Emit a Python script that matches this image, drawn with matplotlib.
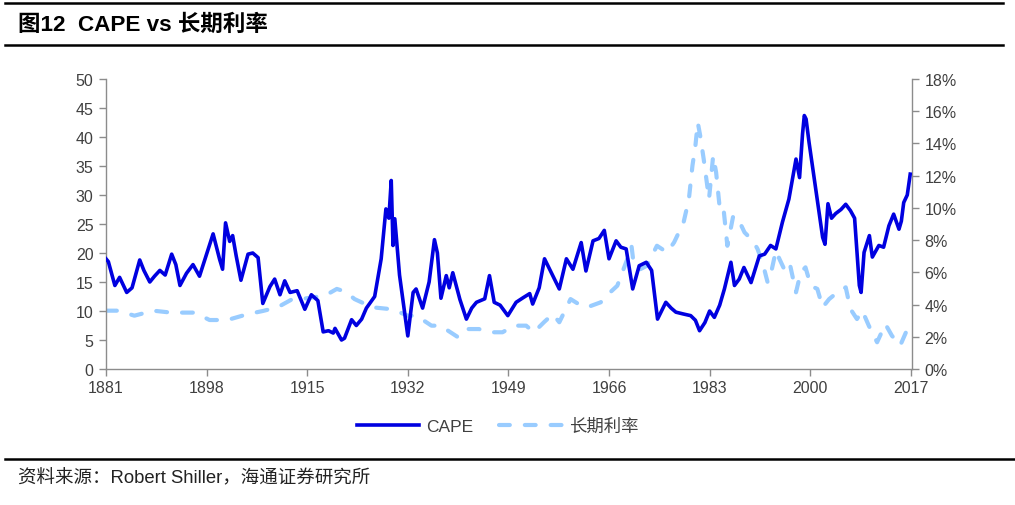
import matplotlib
matplotlib.use("Agg")
import matplotlib.pyplot as plt
from matplotlib.lines import Line2D
from matplotlib.ticker import FuncFormatter

plt.rcParams['font.family'] = ['Liberation Sans', 'Noto Sans CJK SC', 'DejaVu Sans']

# ---------------- data ----------------
cape_years = [1881.0, 1881.4, 1882.5, 1883.3, 1884.5, 1885.4, 1886.7, 1887.4, 1888.4, 1889.2,
              1890.1, 1891.0, 1892.1, 1892.8, 1893.5, 1894.6, 1895.7, 1896.8, 1898.0, 1899.1,
              1900.2, 1900.7, 1901.2, 1901.9, 1902.4, 1903.0, 1903.8, 1905.0, 1905.8, 1906.7,
              1907.5, 1908.7, 1909.5, 1910.4, 1911.2, 1912.1, 1913.3, 1914.6, 1915.7, 1916.8,
              1917.7, 1918.6, 1919.4, 1919.7, 1920.8, 1921.3, 1922.5, 1923.3, 1924.2, 1925.0,
              1926.4, 1927.5, 1928.3, 1928.8, 1929.2, 1929.5, 1929.8, 1930.6, 1931.3, 1932.0,
              1932.4, 1932.9, 1933.4, 1934.5, 1935.6, 1936.5, 1937.0, 1937.6, 1938.5, 1939.0,
              1939.6, 1940.8, 1941.9, 1942.8, 1943.6, 1945.0, 1945.8, 1946.6, 1947.6, 1948.9,
              1950.3, 1951.5, 1952.6, 1953.1, 1954.2, 1955.1, 1956.5, 1957.6, 1958.8, 1959.9,
              1961.3, 1962.1, 1963.3, 1964.3, 1965.2, 1966.0, 1967.2, 1968.0, 1968.9, 1970.0,
              1971.1, 1972.3, 1973.2, 1974.2, 1975.6, 1976.5, 1977.3, 1978.5, 1979.8, 1980.6,
              1981.3, 1982.2, 1983.0, 1983.8, 1984.7, 1985.5, 1986.6, 1987.2, 1988.0, 1988.8,
              1990.0, 1991.4, 1992.3, 1993.3, 1994.2, 1995.3, 1996.4, 1997.6, 1998.2, 1998.7,
              1999.0, 1999.3, 1999.8, 2000.4, 2001.2, 2002.1, 2002.5, 2003.0, 2003.6, 2004.3,
              2005.2, 2006.0, 2006.8, 2007.5, 2008.3, 2008.6, 2009.1, 2010.0, 2010.5, 2011.6,
              2012.4, 2013.3, 2014.1, 2015.0, 2015.4, 2015.8, 2016.4, 2016.9]
cape_values = [19.0, 18.5, 14.4, 15.8, 13.2, 14.0, 18.8, 17.0, 15.0, 16.0,
               17.0, 16.2, 19.8, 18.0, 14.4, 16.5, 18.0, 16.0, 19.8, 23.3,
               18.9, 17.2, 25.2, 22.0, 23.0, 19.5, 15.3, 19.8, 20.0, 19.2,
               11.3, 14.2, 15.5, 12.8, 15.2, 13.2, 13.5, 10.3, 12.8, 11.8,
               6.4, 6.6, 6.2, 7.0, 5.0, 5.3, 8.5, 7.5, 8.6, 10.5,
               12.5, 19.0, 27.6, 26.0, 32.5, 21.3, 25.9, 16.2, 11.0, 5.7,
               9.0, 13.2, 13.8, 10.5, 15.0, 22.3, 20.0, 12.2, 16.1, 14.0,
               16.6, 12.0, 8.6, 10.5, 11.5, 12.1, 16.1, 11.5, 11.0, 9.2,
               11.5, 12.3, 13.0, 11.2, 14.0, 19.0, 16.1, 13.8, 19.0, 17.2,
               21.8, 16.9, 22.1, 22.5, 23.9, 19.0, 22.1, 21.0, 20.7, 13.8,
               17.8, 18.4, 17.0, 8.6, 11.5, 10.5, 9.8, 9.5, 9.2, 8.4,
               6.6, 8.0, 10.0, 8.9, 11.0, 13.8, 18.4, 14.4, 15.5, 17.5,
               14.9, 19.5, 19.8, 21.3, 20.7, 25.3, 29.3, 36.2, 33.0, 40.5,
               43.7, 43.1, 39.1, 34.8, 29.0, 22.7, 21.5, 28.5, 26.0, 26.8,
               27.5, 28.4, 27.3, 26.0, 14.4, 13.2, 20.1, 23.0, 19.3, 21.3,
               21.0, 24.7, 26.7, 24.1, 25.5, 28.7, 30.0, 33.6]

rate_years = [1881.0, 1883.0, 1885.8, 1889.0, 1892.0, 1896.0, 1898.5, 1901.5, 1905.0, 1907.5,
              1910.0, 1912.5, 1914.0, 1916.0, 1918.0, 1920.0, 1921.5, 1923.0, 1926.0, 1929.0,
              1930.6, 1932.0, 1933.5, 1936.0, 1937.5, 1940.5, 1942.0, 1944.0, 1946.0, 1948.0,
              1950.0, 1952.0, 1953.3, 1955.0, 1956.5, 1957.6, 1959.5, 1961.3, 1962.3, 1964.6,
              1966.2, 1967.4, 1969.1, 1969.8, 1970.2, 1971.3, 1972.4, 1974.1, 1975.8, 1977.0,
              1978.6, 1979.5, 1980.1, 1980.6, 1981.0, 1981.4, 1982.0, 1982.9, 1983.6, 1984.1,
              1984.7, 1985.3, 1986.0, 1987.0, 1988.1, 1988.9, 1990.3, 1991.1, 1992.0, 1992.8,
              1993.4, 1994.2, 1994.8, 1995.6, 1996.5, 1997.6, 1998.4, 1999.2, 2000.1, 2001.2,
              2002.1, 2003.2, 2004.6, 2006.0, 2006.8, 2007.9, 2008.8, 2009.9, 2011.3, 2012.7,
              2013.8, 2015.2, 2016.3, 2016.9]
rate_values = [3.62, 3.62, 3.31, 3.62, 3.50, 3.50, 3.04, 3.04, 3.41, 3.60,
               3.83, 4.34, 4.34, 4.45, 4.55, 4.97, 4.80, 4.34, 3.83, 3.72,
               3.52, 3.31, 3.30, 2.69, 2.69, 1.97, 2.48, 2.48, 2.28, 2.28,
               2.69, 2.69, 2.28, 2.90, 3.41, 2.90, 4.34, 3.93, 3.83, 4.14,
               4.76, 5.17, 6.83, 7.65, 6.41, 6.20, 6.41, 7.65, 7.24, 7.86,
               9.10, 10.55, 12.62, 13.86, 15.30, 14.50, 13.03, 10.55, 13.24, 12.20,
               10.03, 10.14, 7.65, 9.52, 9.10, 8.48, 7.96, 7.45, 6.52, 5.38,
               6.00, 7.34, 6.83, 6.20, 6.62, 4.76, 6.00, 6.31, 5.17, 4.97,
               3.83, 4.34, 4.76, 5.07, 3.72, 3.10, 3.62, 2.69, 1.66, 2.79,
               2.07, 1.45, 2.38, 2.25]

x_ticks = [1881, 1898, 1915, 1932, 1949, 1966, 1983, 2000, 2017]
left_ticks = [0, 5, 10, 15, 20, 25, 30, 35, 40, 45, 50]
right_ticks = [0, 2, 4, 6, 8, 10, 12, 14, 16, 18]

series_names = ['CAPE', '长期利率']

# ---------------- figure ----------------
W, H = 1015, 506
fig = plt.figure(figsize=(W / 100, H / 100), dpi=100)
ax = fig.add_axes([106 / W, 1 - 370 / H, (912 - 106) / W, (370 - 80) / H])
ax2 = ax.twinx()

cape_color = '#0000E0'
rate_color = '#99CCFF'
axis_color = '#8C8C8C'
text_color = '#404040'

rate_lw = 3.0
rate_dashes = (2.6, 3.6)
ax2.plot(rate_years, rate_values, color=rate_color, lw=rate_lw,
         dashes=rate_dashes, dash_capstyle='round', dash_joinstyle='round', zorder=1)
ax.plot(cape_years, cape_values, color=cape_color, lw=2.6, zorder=3,
        solid_joinstyle='round')
ax.set_zorder(ax2.get_zorder() + 1)
ax.patch.set_visible(False)

ax.set_xlim(1881, 2017.2)
ax.set_ylim(0, 50)
ax2.set_ylim(0, 18)
ax.set_xticks(x_ticks)
ax.set_xticklabels([str(t) for t in x_ticks])
ax.set_yticks(left_ticks)
ax2.set_yticks(right_ticks)
ax2.yaxis.set_major_formatter(FuncFormatter(lambda v, p: f'{v:.0f}%'))

for a in (ax, ax2):
    a.spines['top'].set_visible(False)
    for s in ('left', 'right', 'bottom'):
        a.spines[s].set_color(axis_color)
        a.spines[s].set_linewidth(1.0)
    a.tick_params(axis='both', colors=axis_color, labelcolor=text_color,
                  labelsize=11.5, length=5, width=1.0, direction='out')
ax.spines['right'].set_visible(False)
ax2.spines['left'].set_visible(False)
ax2.spines['bottom'].set_visible(False)
ax.tick_params(axis='y', pad=4)
ax.tick_params(axis='x', pad=3)
ax2.tick_params(axis='y', pad=4)

# legend
handles = [Line2D([], [], color=cape_color, lw=2.6),
           Line2D([], [], color=rate_color, lw=rate_lw, dashes=rate_dashes,
                  dash_capstyle='round')]
leg = fig.legend(handles, series_names, loc='center', bbox_to_anchor=(0.49, 1 - 427 / H),
                 ncol=2, frameon=False, fontsize=12.5, handlelength=3.6,
                 columnspacing=1.5, handletextpad=0.4)
for t in leg.get_texts():
    t.set_color(text_color)

# title & footer
fig.add_artist(Line2D([5 / W, 1003 / W], [1 - 4 / H, 1 - 4 / H], color='black', lw=1.8))
fig.add_artist(Line2D([5 / W, 1003 / W], [1 - 46 / H, 1 - 46 / H], color='black', lw=1.8))
fig.text(18 / W, 1 - 25 / H, '图12  CAPE vs 长期利率', fontsize=16.2, fontweight='bold',
         va='center', ha='left', color='black')
fig.add_artist(Line2D([5 / W, 1015 / W], [1 - 460 / H, 1 - 460 / H], color='black', lw=1.8))
fig.text(18 / W, 1 - 479 / H, '资料来源：Robert Shiller，海通证券研究所', fontsize=13.3,
         va='center', ha='left', color='#222222')

fig.savefig('out.png', dpi=100)
